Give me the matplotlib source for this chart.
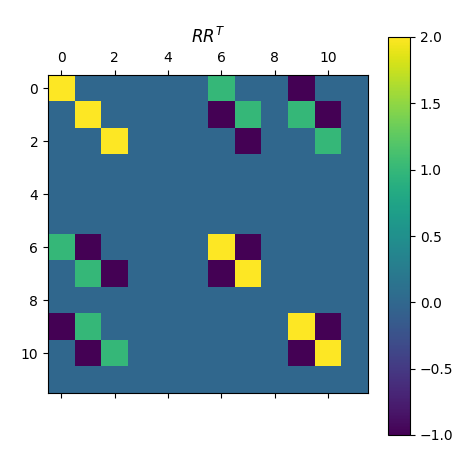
import numpy as np
import matplotlib.pyplot as plt

n = 12
# (row, col, value) of non-zero entries
entries = [
    (0, 0, 2), (0, 6, 1), (0, 9, -1),
    (1, 1, 2), (1, 6, -1), (1, 7, 1), (1, 9, 1), (1, 10, -1),
    (2, 2, 2), (2, 7, -1), (2, 10, 1),
    (6, 0, 1), (6, 1, -1), (6, 6, 2), (6, 7, -1),
    (7, 1, 1), (7, 2, -1), (7, 6, -1), (7, 7, 2),
    (9, 0, -1), (9, 1, 1), (9, 9, 2), (9, 10, -1),
    (10, 1, -1), (10, 2, 1), (10, 9, -1), (10, 10, 2),
]

M = np.zeros((n, n))
for r, c, v in entries:
    M[r, c] = v

W, H = 474, 457
fig = plt.figure(figsize=(W / 100, H / 100), dpi=100)
ax = fig.add_axes([48 / W, 1 - 393 / H, 320 / W, 318 / H])
cax = fig.add_axes([388 / W, 1 - 435 / H, 22 / W, 398 / H])
im = ax.imshow(M, cmap='viridis', vmin=-1, vmax=2, aspect='auto')
ax.tick_params(axis='x', bottom=True, top=True, labelbottom=False, labeltop=True)
ax.set_xticks(range(0, n, 2))
ax.set_yticks(range(0, n, 2))
ax.set_title('$RR^T$')
fig.colorbar(im, cax=cax)
plt.savefig('out.png')
